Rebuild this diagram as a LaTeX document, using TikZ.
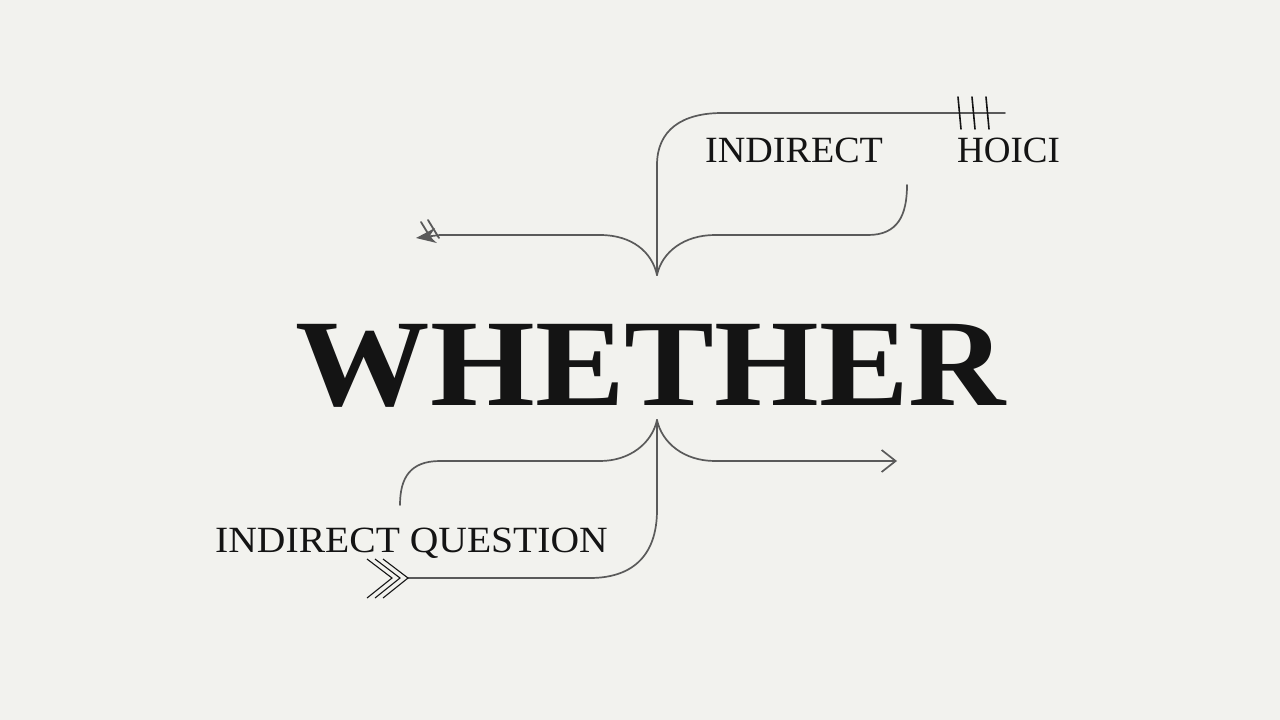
\documentclass[tikz,border=0pt]{standalone}
\usepackage{fontspec}
\setmainfont{Liberation Serif}
\usetikzlibrary{arrows.meta}
\definecolor{bg}{HTML}{F2F2EE}
\definecolor{ln}{HTML}{5A5A5A}
\definecolor{ink}{HTML}{141414}
\begin{document}
\begin{tikzpicture}[x=1pt,y=-1pt,
  conn/.style={draw=ln, line width=1.7pt, line cap=round},
  lbl/.style={text=ink, font=\fontsize{37}{40}\selectfont, inner sep=0pt, anchor=base west},
  title/.style={text=ink, font=\bfseries\fontsize{124}{130}\selectfont, inner sep=0pt, anchor=base, xscale=1.085}]
\fill[bg] (0,0) rectangle (1280,720);
\useasboundingbox (0,0) rectangle (1280,720);

% main word
\node[title] (w) at (651,405) {WHETHER};

% labels
\node[lbl, xscale=1.03] (ind1) at (705,162) {INDIRECT};
\node[lbl] (hoi) at (957,162) {HOICI};
\node[lbl, xscale=1.07] (ind2) at (215,552) {INDIRECT QUESTION};

% junction points and ends
\coordinate (tc) at (657,275);
\coordinate (bc) at (657,420);
\coordinate (la) at (416,238);
\coordinate (tr) at (1005,113);
\coordinate (te) at (907,185);
\coordinate (ra) at (897,461);
\coordinate (bl) at (400,505);
\coordinate (bt) at (408,578);

% upper connectors
\draw[conn, {Stealth[length=20pt,width=15pt]}-] (la) -- (440,235) -- (600,235) .. controls (632,235) and (652,252) .. (tc);
\draw[conn] (tc) .. controls (662,252) and (684,235) .. (715,235) -- (868,235) .. controls (898,235) and (907,215) .. (te);
\draw[conn] (tc) -- (657,165) .. controls (657,130) and (682,113) .. (722,113) -- (tr);

% feather marks, upper left
\draw[conn, line width=1.8pt] (421,222) -- (432,240);
\draw[conn, line width=1.8pt] (428,220) -- (439,238);
% marks, upper right
\foreach \x in {958,972,986}
  \draw[conn, draw=ink, line width=1.6pt] (\x,97) -- (\x+3,129);

% lower connectors
\draw[conn] (bc) .. controls (652,443) and (630,461) .. (600,461) -- (440,461) .. controls (410,461) and (400,478) .. (bl);
\draw[conn, -{Straight Barb[length=14pt,width=22pt,line width=1.7pt]}] (bc) .. controls (662,443) and (684,461) .. (715,461) -- (ra);
\draw[conn] (bc) -- (657,510) .. controls (657,558) and (630,578) .. (590,578) -- (bt);

% fletching, lower left
\foreach \v in {392,400,408}
  \draw[draw=ink, line width=1.1pt] (\v-25,559) -- (\v,578) -- (\v-25,598);
\end{tikzpicture}
\end{document}
